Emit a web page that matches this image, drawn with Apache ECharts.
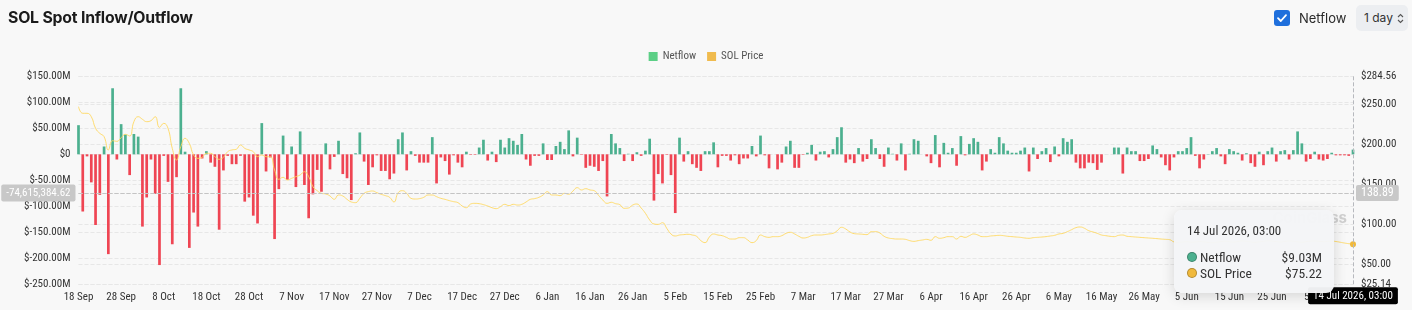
<!DOCTYPE html>
<html><head><meta charset="utf-8">
<script src="https://cdn.jsdelivr.net/npm/echarts@6/dist/echarts.min.js"></script>
<style>
html,body{margin:0;padding:0;background:#f8f8f8;width:1412px;height:310px;overflow:hidden;font-family:Inter,'Noto Sans',sans-serif}
#chart{position:absolute;left:0;top:0;width:1412px;height:310px}
.title{position:absolute;left:8px;top:8px;font-size:15.8px;font-weight:700;color:#1b1b1b;letter-spacing:-0.2px;z-index:2}
.cb{position:absolute;left:1274px;top:10px;width:16px;height:16px;border-radius:3px;background:#1f6fdc;z-index:2}
.cbl{position:absolute;left:1299px;top:9px;font-size:13px;color:#2a2a2a;line-height:18px;z-index:2}
.btn{position:absolute;left:1356px;top:5px;width:52px;height:26px;border-radius:5px;background:#eceef1;font-size:12px;color:#333;line-height:26px;z-index:2}
.btn span{position:absolute;left:8px}
.btn svg{position:absolute;left:41px;top:8px}
</style></head>
<body>
<div id="chart"></div>
<div class="title">SOL Spot Inflow/Outflow</div>
<div class="cb"><svg width="16" height="16" viewBox="0 0 16 16"><path d="M4 8.2 L6.8 11 L12 5.2" stroke="#fff" stroke-width="1.8" fill="none" stroke-linecap="round" stroke-linejoin="round"/></svg></div>
<div class="cbl">Netflow</div>
<div class="btn"><span>1 day</span><svg width="7" height="11" viewBox="0 0 7 11"><path d="M1 4 L3.5 1.5 L6 4 M1 7 L3.5 9.5 L6 7" stroke="#555" stroke-width="1.1" fill="none"/></svg></div>
<script>
// Netflow in millions of USD, one per day from 18 Sep 2025
const netflowM = [
 56,-110,-4,-54,-136,-78,15,-192,127,-10,
 58,38,-40,39,34,-139,-83,-10,-76,-213,
 -3,-53,-173,-44,127,5,-180,-112,-139,-8,
 6,-16,-24,-145,-31,-3,-19,-19,-3,-91,
 -83,-118,-133,60,-33,-6,-163,-67,36,-49,
 15,-63,44,-59,-123,-77,-30,-72,21,-29,
 -5,26,-38,-46,-88,2,42,-14,-59,-25,
 -2,-32,-32,-48,-37,29,42,-31,6,-3,
 -16,-16,-16,33,-56,-6,-13,-39,-2,-16,
 -25,5,-1,-1,13,28,-12,5,-15,28,
 13,31,26,18,39,-10,-22,-3,-3,21,
 -11,-11,16,24,10,46,-4,32,-1,-26,
 -22,-24,-32,-13,-81,39,21,12,-13,1,
 -13,4,-3,7,30,-89,-38,-56,-1,-40,
 -113,32,-14,6,-19,-26,-32,6,6,23,
 -25,-3,-3,-12,-2,-19,-8,-8,16,-4,
 36,-2,-27,0,-29,-16,15,26,-26,-26,
 -1,3,18,-12,5,6,-6,10,33,52,
 -16,-10,-17,12,-14,-9,29,12,-9,-24,
 13,1,-12,21,-31,1,29,26,0,-4,
 -17,37,-25,22,3,12,-22,35,-2,20,
 31,24,-31,-14,10,3,33,21,7,3,
 3,7,13,-33,13,-9,6,12,-15,15,
 -4,31,24,29,-16,-27,-27,-16,-17,-30,
 -16,0,0,13,13,-37,13,6,6,-13,
 -13,-9,17,10,-6,-21,-31,-6,6,6,
 12,33,-3,-27,-10,0.5,6,12,-4,-19,
 10,6,3,-12,2,-17,-24,5,-21,6,
 13,-14,6,8,-10,8,44,21,-14,-9,
 5,-10,-12,-9,3,-2,-2,-2,-3,9.03
];
// SOL price in USD
const solPrice = [
 246.7,238.4,238.4,234.2,219.7,213.4,209.3,192.7,204.3,203.4,
 208.0,212.2,210.1,228.0,234.2,230.9,228.0,229.2,234.2,220.9,
 225.9,219.7,194.7,180.2,196.8,207.2,200.9,186.4,182.2,183.5,
 188.5,188.5,184.3,181.0,183.5,190.6,192.7,193.5,198.9,194.7,
 192.7,190.6,184.3,186.4,184.3,184.3,167.7,156.1,158.6,155.2,
 157.3,159.4,161.5,165.6,159.4,146.9,141.9,138.6,137.8,135.3,
 131.1,136.5,135.3,131.1,127.8,127.0,132.5,138.6,140.7,141.5,
 139.4,137.4,135.7,133.6,127.8,139.4,141.9,138.6,132.4,131.5,
 132.0,133.6,136.5,136.5,134.4,132.4,131.1,129.5,128.2,127.0,
 122.8,120.7,125.3,126.1,125.7,124.5,122.8,120.7,119.5,122.0,
 124.9,123.2,124.9,124.0,124.9,127.8,131.1,132.0,133.6,136.5,
 140.7,136.5,136.5,135.7,138.6,137.4,141.5,145.7,142.8,144.4,
 142.8,141.9,136.1,130.3,126.1,127.4,125.7,124.5,119.9,120.3,
 124.0,125.3,120.3,113.7,105.4,100.4,99.9,102.0,95.0,87.9,
 85.4,86.6,87.1,87.5,86.6,85.0,79.6,77.1,84.1,87.9,
 86.6,85.8,83.7,81.6,81.6,83.3,83.3,80.4,77.1,79.6,
 86.6,84.6,83.7,84.6,84.6,85.8,88.7,90.0,87.9,85.0,
 82.9,83.7,85.8,86.6,86.6,87.1,87.9,88.7,92.0,96.2,
 94.1,90.4,88.3,87.9,87.5,87.1,90.8,90.8,89.1,85.0,
 82.9,82.1,81.6,81.6,81.2,79.6,78.7,79.6,80.4,81.2,
 80.0,84.6,82.5,83.3,84.6,84.6,81.6,85.0,83.7,85.8,
 87.9,86.6,84.6,84.6,85.4,85.8,86.2,85.8,85.0,84.6,
 84.1,83.7,82.9,82.5,83.3,83.7,84.1,84.6,85.4,86.2,
 87.9,88.7,90.8,93.3,95.8,96.6,95.0,92.0,90.4,88.7,
 86.6,85.8,85.0,84.6,86.2,86.6,85.0,84.6,84.1,83.7,
 83.3,82.9,82.5,82.1,81.6,81.2,80.8,78.0,77.4,77.8,
 78.3,77.6,77.9,78.5,78.1,77.4,77.0,77.6,78.4,78.9,
 78.2,77.7,78.6,79.3,78.8,78.0,77.5,78.1,78.7,79.4,
 79.0,78.4,77.9,78.6,79.2,78.8,78.1,77.6,78.3,78.9,
 79.2,78.7,78.3,78.6,79.0,78.5,77.6,76.6,75.8,75.22
];
const seriesNames = ['Netflow', 'SOL Price'];
const startDay = '2025-09-18';
const monthNames = ['Jan','Feb','Mar','Apr','May','Jun','Jul','Aug','Sep','Oct','Nov','Dec'];
const leftAxis = {min: -250e6, max: 150e6, interval: 50e6};
const rightAxis = {min: 25.14, max: 284.56};
const hoverIndex = 299;
const hoverNetflow = -74615384.62;

const t0 = Date.parse(startDay + 'T00:00:00Z');
const categories = netflowM.map((_, i) => new Date(t0 + i * 86400000).toISOString().slice(0, 10));
function shortDate(s){ const d = new Date(s + 'T00:00:00Z'); return d.getUTCDate() + ' ' + monthNames[d.getUTCMonth()]; }
function fullDate(s){ const d = new Date(s + 'T00:00:00Z'); return d.getUTCDate() + ' ' + monthNames[d.getUTCMonth()] + ' ' + d.getUTCFullYear() + ', 03:00'; }

const GREEN = '#4cb08f', RED = '#ef4553', LINE = '#f6c453';
const FONT = "'Liberation Sans Narrow','Roboto Condensed',Roboto,sans-serif";

const chart = echarts.init(document.getElementById('chart'), null, {renderer: 'canvas'});
const option = {
  animation: false,
  textStyle: {fontFamily: FONT},
  legend: {
    top: 46, left: 'center', itemWidth: 9, itemHeight: 9, itemGap: 11,
    icon: 'rect',
    textStyle: {color: '#555', fontSize: 11, fontFamily: FONT},
    data: [{name: seriesNames[0], itemStyle: {color: '#5ccf86'}}, {name: seriesNames[1], itemStyle: {color: '#f0bb4e'}}]
  },
  grid: {left: 78.5, right: 59, top: 76.3, bottom: 25.7, containLabel: false},
  tooltip: {
    trigger: 'axis',
    transitionDuration: 0,
    showDelay: 0,
    alwaysShowContent: true,
    axisPointer: {type: 'cross', crossStyle: {color: '#c4c4c4', type: 'dashed', width: 1}},
    position: function(){ return [1174, 210]; },
    backgroundColor: 'rgba(244,245,247,0.97)',
    borderWidth: 0,
    borderRadius: 8,
    padding: [12, 12, 12, 13],
    extraCssText: 'box-shadow:0 3px 14px rgba(0,0,0,0.14);width:135px;',
    formatter: function(params){
      const i = params[0].dataIndex;
      let h = '<div style="font-family:' + FONT.replace(/'/g,'') + ';font-size:13px;color:#333;line-height:18px;margin-bottom:9px">' + fullDate(categories[i]) + '</div>';
      params.forEach(p => {
        let col, val;
        if (p.seriesIndex === 0) { col = p.value >= 0 ? GREEN : RED; val = '$' + (p.value / 1e6).toFixed(2) + 'M'; }
        else { col = '#f0b93c'; val = '$' + p.value.toFixed(2); }
        h += '<div style="display:flex;justify-content:space-between;align-items:center;font-family:' + FONT.replace(/'/g,'') + ';font-size:13.5px;color:#333;line-height:16px">'
          + '<span><span style="display:inline-block;width:8px;height:8px;border-radius:50%;background:' + col + ';border:1px solid rgba(0,0,0,0.25);margin-right:3px;vertical-align:0px"></span>' + p.seriesName + '</span>'
          + '<span>' + val + '</span></div>';
      });
      return h;
    }
  },
  xAxis: {
    type: 'category', data: categories, boundaryGap: false,
    axisLine: {show: false}, axisTick: {show: false},
    axisLabel: {interval: 9, color: '#333', fontSize: 11, margin: 7, formatter: v => shortDate(v)},
    splitLine: {show: false},
    axisPointer: {label: {backgroundColor: '#000', color: '#fff', fontSize: 11, padding: [3, 5, 3, 5], borderRadius: 2, formatter: p => fullDate(p.value)}}
  },
  yAxis: [
    {
      type: 'value', min: leftAxis.min, max: leftAxis.max, interval: leftAxis.interval,
      axisLine: {show: false}, axisTick: {show: false},
      axisLabel: {color: '#333', fontSize: 11, margin: 8, formatter: v => v === 0 ? '$0' : '$' + (v / 1e6).toFixed(2) + 'M'},
      splitLine: {lineStyle: {color: '#e7e7e7', type: 'dashed'}},
      axisPointer: {label: {backgroundColor: '#c8c8c8', color: '#fff', fontSize: 11, padding: [3, 5, 3, 5], borderRadius: 2,
        formatter: p => Number(p.value).toLocaleString('en-US', {minimumFractionDigits: 2, maximumFractionDigits: 2})}}
    },
    {
      type: 'value', min: rightAxis.min, max: rightAxis.max, splitNumber: 5,
      axisLine: {show: false}, axisTick: {show: false},
      axisLabel: {color: '#333', fontSize: 11, margin: 8, formatter: v => '$' + v.toFixed(2)},
      splitLine: {lineStyle: {color: '#e7e7e7', type: 'dashed'}},
      axisPointer: {label: {backgroundColor: '#c8c8c8', color: '#fff', fontSize: 12, padding: [2, 5, 2, 5], borderRadius: 2,
        formatter: p => Number(p.value).toFixed(2)}}
    }
  ],
  graphic: [{type: 'text', right: 65, top: 211, z: 0, style: {text: 'CoinGlass', fill: '#cfcfcf', fontSize: 15, fontWeight: 'bold', fontFamily: 'Inter'}}],
  series: [
    {
      name: seriesNames[0], type: 'bar', yAxisIndex: 0, barWidth: 2.7, clip: false,
      data: netflowM.map(v => v * 1e6),
      itemStyle: {color: p => p.value >= 0 ? GREEN : RED},
      emphasis: {disabled: true}
    },
    {
      name: seriesNames[1], type: 'line', yAxisIndex: 1, smooth: true, showSymbol: false,
      symbol: 'circle', symbolSize: 5,
      data: solPrice,
      itemStyle: {color: '#f0b93c'},
      lineStyle: {color: LINE, width: 1, opacity: 0.85}
    }
  ]
};
chart.setOption(option);
const pt = chart.convertToPixel({seriesIndex: 0}, [hoverIndex, hoverNetflow]);
chart.dispatchAction({type: 'showTip', x: pt[0] - 0.5, y: pt[1]});
</script>
</body></html>
